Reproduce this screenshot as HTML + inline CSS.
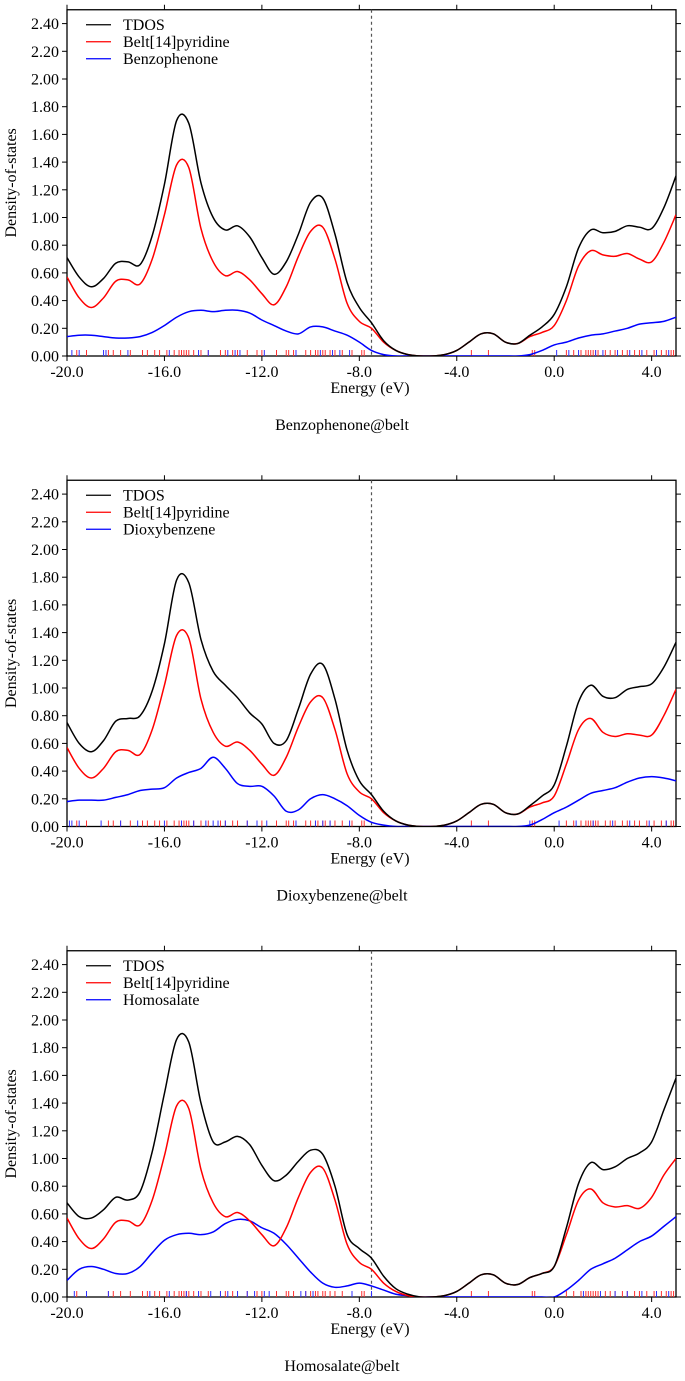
<!DOCTYPE html>
<html><head><meta charset="utf-8">
<style>
html,body{margin:0;padding:0;background:#fff;}
svg{display:block;font-family:"Liberation Serif",serif;}
</style></head>
<body>
<svg id="chart" width="685" height="1381" viewBox="0 0 685 1381" xmlns="http://www.w3.org/2000/svg"></svg>
<script>
const energies = [];
for (let i = 0; i <= 50; i++) energies.push(-20 + i * 0.5);
const xTicks = [-20, -16, -12, -8, -4, 0, 4];
const xTickLabels = ["-20.0","-16.0","-12.0","-8.0","-4.0","0.0","4.0"];
const yTicks = [0,0.2,0.4,0.6,0.8,1.0,1.2,1.4,1.6,1.8,2.0,2.2,2.4];
const yTickLabels = ["0.00","0.20","0.40","0.60","0.80","1.00","1.20","1.40","1.60","1.80","2.00","2.20","2.40"];
const fermiLevel = -7.5;
const panelTitles = ["Benzophenone@belt","Dioxybenzene@belt","Homosalate@belt"];
const guestNames = ["Benzophenone","Dioxybenzene","Homosalate"];

const belt1 = [0.57,0.42,0.35,0.42,0.54,0.55,0.52,0.70,1.02,1.38,1.36,0.92,0.68,0.58,0.61,0.55,0.45,0.37,0.50,0.72,0.90,0.93,0.70,0.38,0.25,0.20,0.10,0.04,0.01,0,0,0.01,0.04,0.10,0.16,0.16,0.10,0.09,0.14,0.17,0.22,0.40,0.65,0.76,0.73,0.72,0.74,0.70,0.68,0.82,1.02];
const guest1 = [0.14,0.15,0.15,0.14,0.13,0.13,0.14,0.17,0.22,0.28,0.32,0.33,0.32,0.33,0.33,0.31,0.26,0.22,0.18,0.16,0.21,0.21,0.18,0.15,0.10,0.04,0.01,0,0,0,0,0,0,0,0,0,0,0,0.01,0.04,0.08,0.10,0.13,0.15,0.16,0.18,0.20,0.23,0.24,0.25,0.28];
const tdos1 = [0.71,0.57,0.50,0.56,0.67,0.68,0.66,0.87,1.24,1.70,1.68,1.25,1.00,0.91,0.94,0.86,0.71,0.59,0.68,0.88,1.11,1.14,0.88,0.53,0.35,0.24,0.11,0.04,0.01,0,0,0.01,0.04,0.10,0.16,0.16,0.10,0.09,0.15,0.21,0.30,0.50,0.78,0.91,0.89,0.90,0.94,0.93,0.92,1.07,1.30];

const belt2 = [0.57,0.42,0.35,0.42,0.54,0.55,0.52,0.70,1.02,1.38,1.36,0.92,0.68,0.58,0.61,0.55,0.45,0.37,0.50,0.72,0.90,0.93,0.70,0.38,0.25,0.20,0.10,0.04,0.01,0,0,0.01,0.04,0.10,0.16,0.16,0.10,0.09,0.14,0.17,0.22,0.45,0.70,0.78,0.68,0.65,0.67,0.66,0.66,0.80,0.99];
const guest2 = [0.18,0.19,0.19,0.19,0.21,0.23,0.26,0.27,0.28,0.35,0.39,0.42,0.50,0.42,0.31,0.29,0.29,0.22,0.11,0.12,0.20,0.23,0.20,0.15,0.08,0.03,0.01,0,0,0,0,0,0,0,0,0,0,0,0.01,0.05,0.10,0.14,0.19,0.24,0.26,0.28,0.32,0.35,0.36,0.35,0.33];
const tdos2 = [0.75,0.60,0.54,0.62,0.76,0.78,0.80,0.98,1.32,1.78,1.76,1.35,1.12,1.02,0.93,0.82,0.74,0.60,0.62,0.85,1.10,1.17,0.92,0.55,0.33,0.23,0.11,0.04,0.01,0,0,0.01,0.04,0.10,0.16,0.16,0.10,0.09,0.15,0.22,0.30,0.58,0.90,1.02,0.94,0.93,0.99,1.01,1.03,1.15,1.33];

const belt3 = [0.57,0.42,0.35,0.42,0.54,0.55,0.52,0.70,1.02,1.38,1.36,0.92,0.68,0.58,0.61,0.55,0.45,0.37,0.50,0.72,0.90,0.93,0.70,0.38,0.25,0.20,0.10,0.04,0.01,0,0,0.01,0.04,0.10,0.16,0.16,0.10,0.09,0.14,0.17,0.22,0.45,0.70,0.78,0.68,0.65,0.66,0.64,0.72,0.88,1.00];
const guest3 = [0.12,0.20,0.22,0.20,0.17,0.17,0.22,0.32,0.41,0.45,0.46,0.45,0.47,0.53,0.56,0.55,0.50,0.46,0.38,0.28,0.18,0.10,0.07,0.08,0.10,0.08,0.05,0.02,0.01,0,0,0,0,0,0,0,0,0,0,0,0,0.05,0.12,0.20,0.24,0.28,0.34,0.40,0.44,0.51,0.58];
const tdos3 = [0.68,0.58,0.57,0.63,0.72,0.70,0.76,1.05,1.47,1.86,1.84,1.40,1.12,1.12,1.16,1.10,0.95,0.84,0.88,0.98,1.06,1.03,0.80,0.45,0.35,0.28,0.15,0.06,0.02,0,0,0.01,0.04,0.10,0.16,0.16,0.10,0.09,0.14,0.17,0.22,0.50,0.82,0.97,0.92,0.94,1.00,1.04,1.12,1.35,1.58];

const beltLevels = [-19.6,-19.2,-18.3,-18.1,-17.8,-17.4,-16.9,-16.7,-16.4,-16.2,-15.9,-15.6,-15.4,-15.3,-15.2,-15.1,-15.0,-14.8,-14.5,-14.2,-13.7,-13.5,-13.2,-13.0,-12.6,-12.2,-12.0,-11.4,-11.0,-10.9,-10.7,-10.2,-10.0,-9.8,-9.7,-9.5,-9.4,-9.2,-9.0,-8.7,-8.3,-7.9,-7.8,-3.4,-2.7,-0.9,-0.8,0.5,0.8,1.1,1.3,1.4,1.5,1.6,1.7,1.8,2.1,2.3,2.5,2.8,3.0,3.3,3.5,3.8,4.1,4.4,4.6,4.8,4.9];
const guestLevels1 = [-19.8,-19.5,-18.5,-18.4,-17.5,-15.8,-14.6,-14.2,-13.4,-13.1,-12.9,-11.9,-10.6,-9.6,-9.1,-8.8,-8.4,0.1,0.6,1.0,1.7,2.0,2.6,3.1,3.6,4.2,4.7];
const guestLevels2 = [-19.9,-19.8,-19.5,-18.6,-17.8,-17.1,-16.0,-15.3,-14.8,-14.3,-14.0,-13.8,-13.5,-12.6,-12.2,-11.8,-10.6,-9.8,-9.5,-9.2,-8.4,-1.0,0.2,0.9,1.6,2.4,3.1,3.9,4.6];
const guestLevels3 = [-19.7,-19.2,-18.3,-16.6,-15.8,-15.1,-14.6,-14.1,-13.7,-13.4,-13.0,-12.6,-12.3,-11.9,-11.7,-10.4,-10.2,-9.9,-8.3,-7.5,1.2,1.9,2.5,3.0,3.6,4.2,4.7];

const panelsBelt = [belt1, belt2, belt3];
const panelsGuest = [guest1, guest2, guest3];
const panelsTdos = [tdos1, tdos2, tdos3];
const panelsGuestLevels = [guestLevels1, guestLevels2, guestLevels3];

const NS = "http://www.w3.org/2000/svg";
const svg = document.getElementById("chart");
const X0 = 67, X1 = 676, EMIN = -20, EMAX = 5, YMAX = 2.5;
const PXU = 138.5;
function xs(e){ return X0 + (e - EMIN) / (EMAX - EMIN) * (X1 - X0); }
function mk(tag, attrs, parent){ const el = document.createElementNS(NS, tag); for (const k in attrs) el.setAttribute(k, attrs[k]); (parent||svg).appendChild(el); return el; }
function smoothPath(pts){
  let d = "M" + pts[0][0].toFixed(2) + "," + pts[0][1].toFixed(2);
  for (let i = 0; i < pts.length - 1; i++){
    const p0 = pts[Math.max(0,i-1)], p1 = pts[i], p2 = pts[i+1], p3 = pts[Math.min(pts.length-1,i+2)];
    const c1x = p1[0] + (p2[0]-p0[0])/6, c1y = p1[1] + (p2[1]-p0[1])/6;
    const c2x = p2[0] - (p3[0]-p1[0])/6, c2y = p2[1] - (p3[1]-p1[1])/6;
    d += " C" + c1x.toFixed(2)+","+c1y.toFixed(2)+" "+c2x.toFixed(2)+","+c2y.toFixed(2)+" "+p2[0].toFixed(2)+","+p2[1].toFixed(2);
  }
  return d;
}

for (let p = 0; p < 3; p++){
  const zeroY = 356 + p * 470.5;
  const topY = zeroY - YMAX * PXU;
  const ys = v => zeroY - v * PXU;
  const g = mk("g", {});
  
  
  const clipId = "clip" + p;
  const cp = mk("clipPath", {id: clipId}, g);
  mk("rect", {x: X0, y: topY, width: X1 - X0, height: zeroY - topY}, cp);

  const frame = mk("rect", {x: X0, y: topY, width: X1 - X0, height: zeroY - topY, fill: "none", stroke: "#000", "stroke-width": 1.3}, g);
  
  

  xTicks.forEach((t, i) => {
    const x = xs(t);
    mk("line", {x1: x, x2: x, y1: zeroY, y2: zeroY + 5, stroke: "#000", "stroke-width": 1}, g);
    mk("line", {x1: x, x2: x, y1: topY, y2: topY - 5, stroke: "#000", "stroke-width": 1}, g);
    const tl = mk("text", {x: x, y: zeroY + 21, "text-anchor": "middle", "font-size": 16}, g);
    tl.textContent = xTickLabels[i];
    
    
  });
  yTicks.forEach((t, i) => {
    const y = ys(t);
    mk("line", {x1: X0 - 5, x2: X0, y1: y, y2: y, stroke: "#000", "stroke-width": 1}, g);
    mk("line", {x1: X1, x2: X1 + 5, y1: y, y2: y, stroke: "#000", "stroke-width": 1}, g);
    const tl = mk("text", {x: X0 - 8, y: y + 5.5, "text-anchor": "end", "font-size": 16}, g);
    tl.textContent = yTickLabels[i];
    
    
  });

  const fl = mk("line", {x1: xs(fermiLevel), x2: xs(fermiLevel), y1: topY, y2: zeroY, stroke: "#555", "stroke-width": 1.2, "stroke-dasharray": "3,3"}, g);
  
  

  const spikeG = mk("g", {"clip-path": "url(#" + clipId + ")"}, g);
  beltLevels.forEach(e => {
    const s = mk("line", {x1: xs(e), x2: xs(e), y1: zeroY, y2: zeroY - 6, stroke: "#ff3030", "stroke-width": 1}, spikeG);
    
    
  });
  panelsGuestLevels[p].forEach(e => {
    const s = mk("line", {x1: xs(e), x2: xs(e), y1: zeroY, y2: zeroY - 6, stroke: "#3030ff", "stroke-width": 1}, spikeG);
    
    
  });

  const series = [[panelsGuest[p], "#0000ff", "guest-dos-curve"], [panelsBelt[p], "#ff0000", "belt-dos-curve"], [panelsTdos[p], "#000000", "tdos-curve"]];
  series.forEach(s => {
    const pts = energies.map((e, i) => [xs(e), ys(s[0][i])]);
    const path = mk("path", {d: smoothPath(pts), fill: "none", stroke: s[1], "stroke-width": 1.5, "clip-path": "url(#" + clipId + ")"}, g);
    
    
  });

  const legendItems = [["TDOS", "#000"], ["Belt[14]pyridine", "#ff0000"], [guestNames[p], "#0000ff"]];
  legendItems.forEach((li, i) => {
    const ly = topY + 15 + i * 17;
    const lg = mk("g", {}, g);
    
    
    mk("line", {x1: 86, x2: 111, y1: ly, y2: ly, stroke: li[1], "stroke-width": 1.3}, lg);
    const t = mk("text", {x: 123, y: ly + 5, "font-size": 16}, lg);
    t.textContent = li[0];
  });

  const xt = mk("text", {x: 370, y: zeroY + 37, "text-anchor": "middle", "font-size": 16}, g);
  xt.textContent = "Energy (eV)";
  
  
  const yc = (topY + zeroY) / 2;
  const yt = mk("text", {x: 16, y: yc, "text-anchor": "middle", "font-size": 16, transform: "rotate(-90 16 " + yc + ")"}, g);
  yt.textContent = "Density-of-states";
  
  
  const pt = mk("text", {x: 342, y: zeroY + 74, "text-anchor": "middle", "font-size": 16}, g);
  pt.textContent = panelTitles[p];
  
  
}
</script>
</body></html>
